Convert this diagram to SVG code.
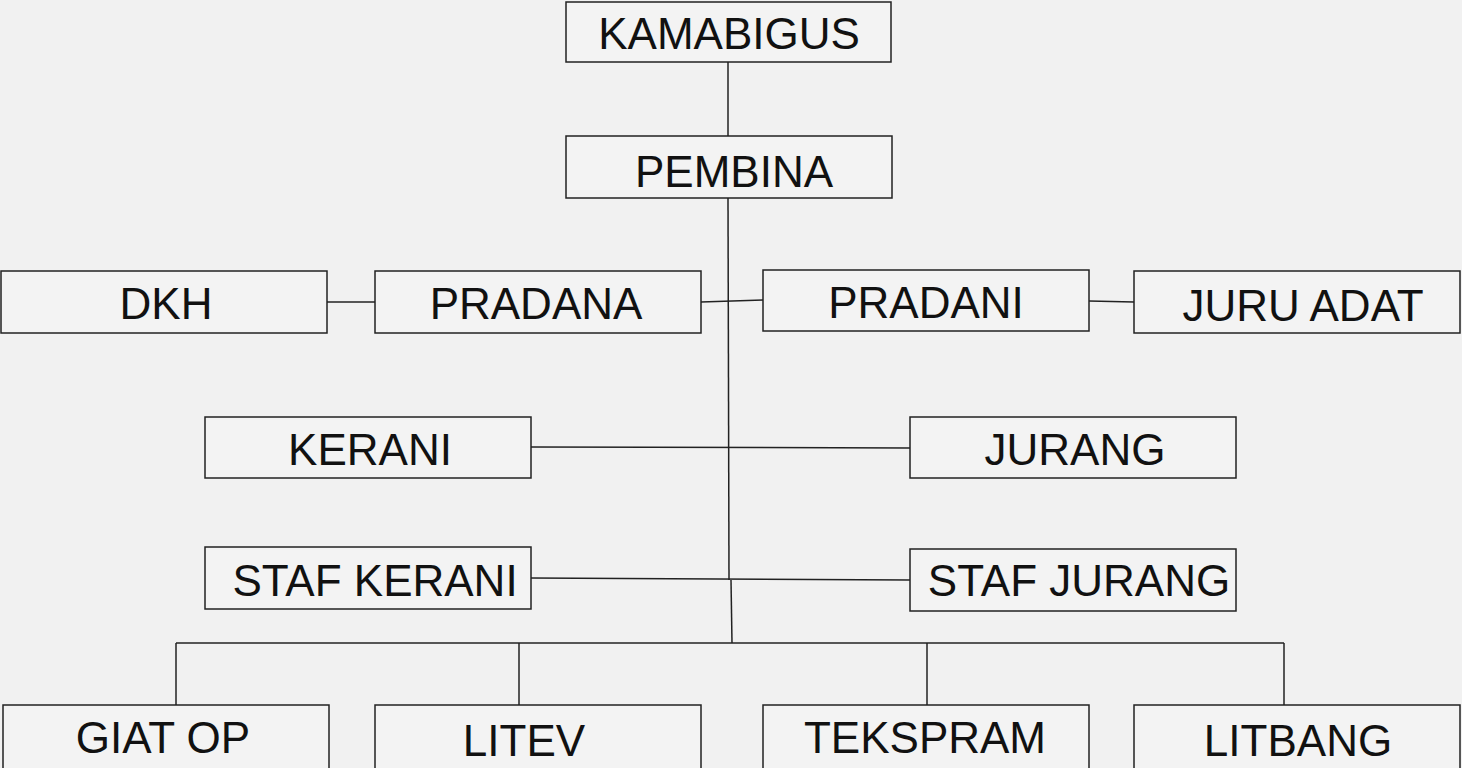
<svg xmlns="http://www.w3.org/2000/svg" width="1462" height="768" viewBox="0 0 1462 768">
<style>
rect.b{fill:#f3f3f3;stroke:#222;stroke-width:1.5}
text{font-family:"Liberation Sans",Arial,sans-serif;font-size:44px;fill:#111;text-anchor:middle;dominant-baseline:central}
.c line{stroke:#222;stroke-width:1.5}
</style>
<rect width="1462" height="768" fill="#f1f1f1"/>
<g class="c">
<line x1="728" y1="62" x2="728" y2="136"/>
<line x1="728" y1="198" x2="729" y2="580"/>
<line x1="731" y1="580" x2="732" y2="643"/>
<line x1="176" y1="643" x2="1284" y2="643"/>
<line x1="176" y1="643" x2="176" y2="705"/>
<line x1="519" y1="643" x2="519" y2="705"/>
<line x1="927" y1="643" x2="927" y2="705"/>
<line x1="1284" y1="643" x2="1284" y2="705"/>
<line x1="327" y1="302" x2="375" y2="302"/>
<line x1="701" y1="302" x2="763" y2="300"/>
<line x1="1089" y1="301" x2="1134" y2="302"/>
<line x1="531" y1="447" x2="910" y2="448"/>
<line x1="531" y1="578" x2="910" y2="580"/>
</g>
<g id="kamabigus"><rect class="b" x="566" y="2" width="325" height="60"/><text x="729" y="33">KAMABIGUS</text></g>
<g id="pembina"><rect class="b" x="566" y="136" width="326" height="62"/><text x="734" y="171">PEMBINA</text></g>
<g id="dkh"><rect class="b" x="1" y="271" width="326" height="62"/><text x="166" y="303">DKH</text></g>
<g id="pradana"><rect class="b" x="375" y="271" width="326" height="62"/><text x="536" y="303">PRADANA</text></g>
<g id="pradani"><rect class="b" x="763" y="270" width="326" height="61"/><text x="926" y="302">PRADANI</text></g>
<g id="juruadat"><rect class="b" x="1134" y="271" width="326" height="62"/><text x="1303" y="305">JURU ADAT</text></g>
<g id="kerani"><rect class="b" x="205" y="417" width="326" height="61"/><text x="370" y="449">KERANI</text></g>
<g id="jurang"><rect class="b" x="910" y="417" width="326" height="61"/><text x="1075" y="449">JURANG</text></g>
<g id="stafkerani"><rect class="b" x="205" y="547" width="326" height="62"/><text x="375" y="580">STAF KERANI</text></g>
<g id="stafjurang"><rect class="b" x="910" y="549" width="326" height="62"/><text x="1079" y="580">STAF JURANG</text></g>
<g id="giatop"><rect class="b" x="3" y="705" width="326" height="64"/><text x="163" y="737">GIAT OP</text></g>
<g id="litev"><rect class="b" x="375" y="705" width="326" height="64"/><text x="524" y="740">LITEV</text></g>
<g id="tekspram"><rect class="b" x="763" y="705" width="326" height="64"/><text x="925" y="737">TEKSPRAM</text></g>
<g id="litbang"><rect class="b" x="1134" y="705" width="326" height="64"/><text x="1298" y="740">LITBANG</text></g>
</svg>
